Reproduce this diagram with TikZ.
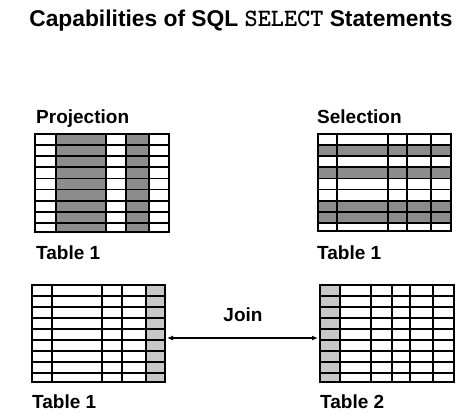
\documentclass[tikz,border=0pt]{standalone}
\usepackage{fontspec}
\setmainfont{Liberation Sans}
\newfontfamily\sqlmono{lmmonolt10-bold.otf}
\usetikzlibrary{arrows.meta}
\begin{document}
\begin{tikzpicture}[x=1pt,y=-1pt,
  grid/.style={line width=1.8pt, black},
  tbox/.style={draw, line width=2pt, inner sep=0pt, outer sep=0pt, anchor=north west},
  lbl/.style={font=\bfseries\fontsize{19}{19}\selectfont, anchor=base west, inner sep=0pt},
  dark/.style={fill=black!45},
  light/.style={fill=black!22}]
\useasboundingbox (0,0) rectangle (474,416);
\node[anchor=base, inner sep=0pt, font=\bfseries\fontsize{22.8}{22.8}\selectfont] (title) at (241,26) {Capabilities of SQL {\sqlmono\fontsize{25}{25}\selectfont SELECT} Statements};

% Projection
\node[lbl] (projlbl) at (36,123) {Projection};
\fill[dark] (56,134) rectangle (106,232);
\fill[dark] (126,134) rectangle (149,232);
\foreach \y in {145.1,156.2,167.3,178.4,189.5,200.6,211.7,222.8} \draw[grid] (35,\y) -- (169,\y);
\foreach \x in {56,106,126,149} \draw[grid] (\x,134) -- (\x,232);
\node[tbox, minimum width=134pt, minimum height=98pt] (proj) at (35,134) {};
\node[lbl] (projtab) at (36,259) {Table 1};

% Selection
\node[lbl] (sellbl) at (317,123) {Selection};
\fill[dark] (318,145.1) rectangle (451,156.2);
\fill[dark] (318,167.3) rectangle (451,178.4);
\fill[dark] (318,200.6) rectangle (451,222.8);
\foreach \y in {145.1,156.2,167.3,178.4,189.5,200.6,211.7,222.8} \draw[grid] (318,\y) -- (451,\y);
\foreach \x in {337,388,407,431} \draw[grid] (\x,134) -- (\x,231);
\node[tbox, minimum width=133pt, minimum height=97pt] (sel) at (318,134) {};
\node[lbl] (seltab) at (317,259) {Table 1};

% Join table 1
\fill[light] (146,285) rectangle (165,382);
\foreach \y in {296,307,318,329,340,351,362,373} \draw[grid] (32,\y) -- (165,\y);
\foreach \x in {52,102,122,146} \draw[grid] (\x,285) -- (\x,382);
\node[tbox, minimum width=133pt, minimum height=97pt] (j1) at (32,285) {};
\node[lbl] (j1tab) at (32,408) {Table 1};

% Join table 2
\fill[light] (320,285) rectangle (340,382);
\foreach \y in {296,307,318,329,340,351,362,373} \draw[grid] (320,\y) -- (454,\y);
\foreach \x in {340,371,392,410,433} \draw[grid] (\x,285) -- (\x,382);
\node[tbox, minimum width=134pt, minimum height=97pt] (j2) at (320,285) {};
\node[lbl] (j2tab) at (320,408) {Table 2};

% Join arrow
\node[lbl, anchor=base] (join) at (243,321) {Join};
\draw[{Latex[length=6pt,width=5pt]}-{Latex[length=6pt,width=5pt]}, line width=1.2pt]
  ([xshift=2pt,yshift=-4.5pt]j1.east) -- ([xshift=-2pt,yshift=-4.5pt]j2.west);
\end{tikzpicture}
\end{document}
